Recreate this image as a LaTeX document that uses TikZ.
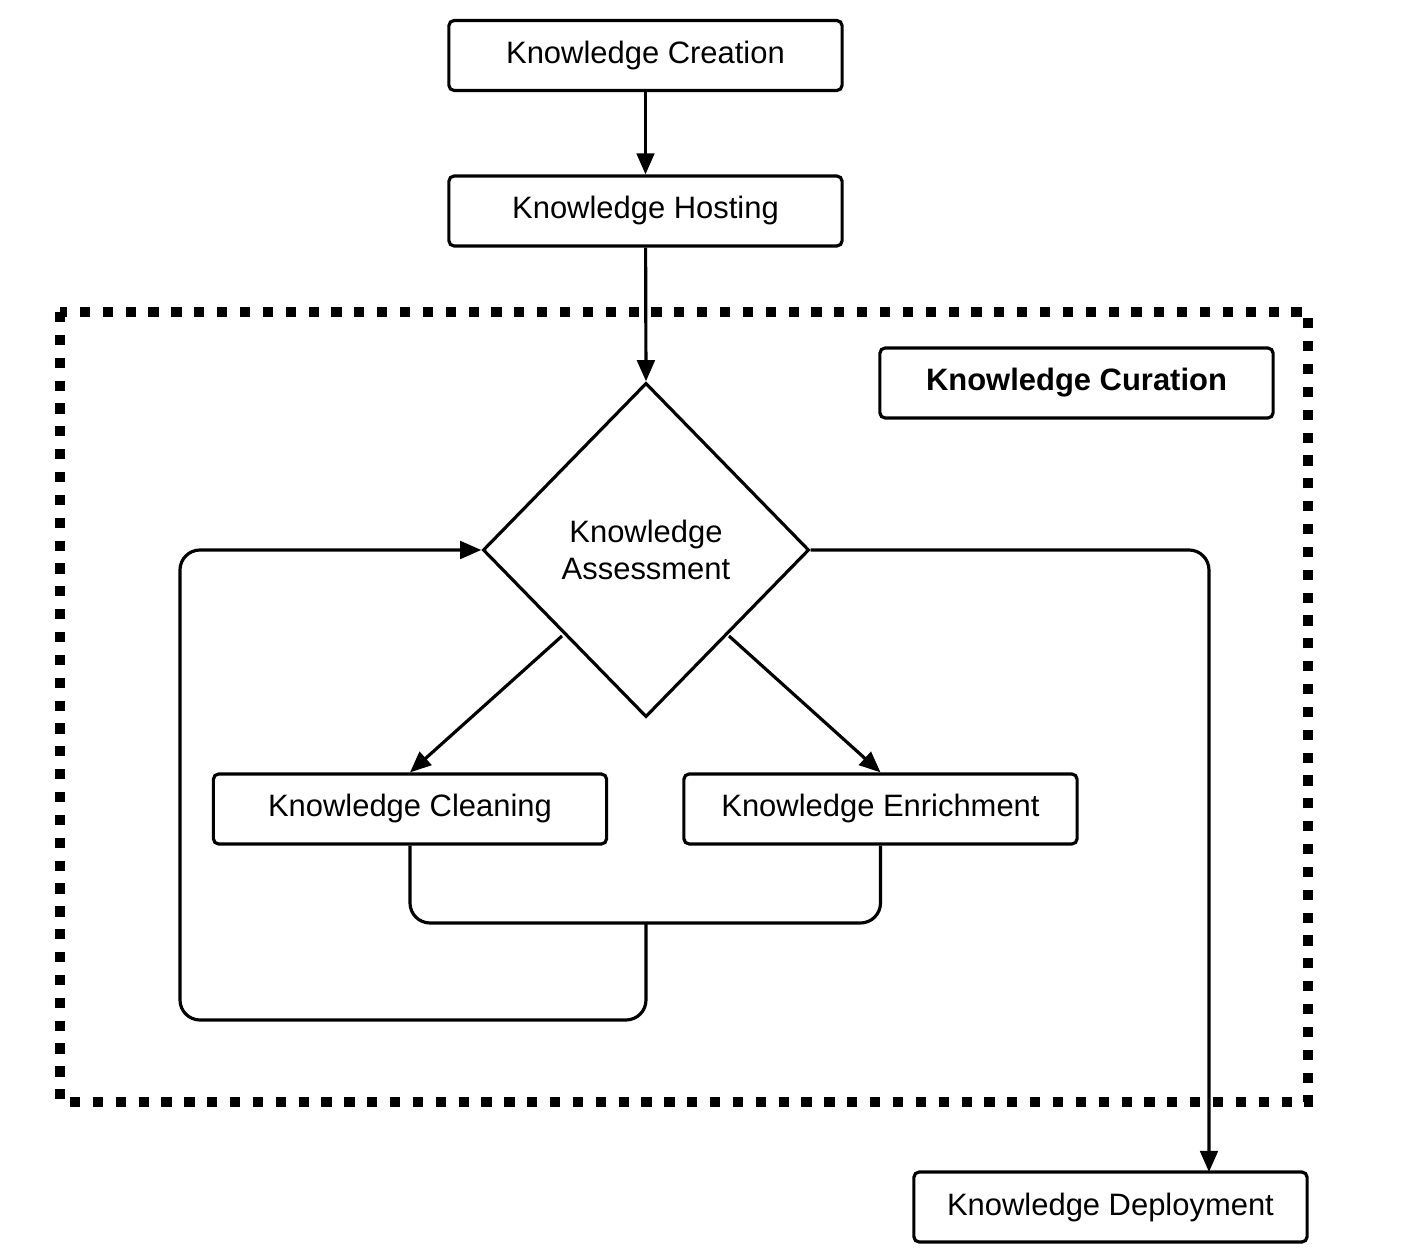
\documentclass[tikz,border=0pt]{standalone}
\usepackage{fontspec}
\setmainfont{Liberation Sans}
\usetikzlibrary{shapes.geometric,arrows.meta}
\begin{document}
\begin{tikzpicture}[x=0.01cm,y=-0.01cm,
  box/.style={draw,line width=0.9pt,rounded corners=1.5pt,minimum width=3.93cm,minimum height=0.70cm,inner sep=0pt,font=\fontsize{8.8}{10.5}\selectfont},
  conn/.style={line width=0.9pt,rounded corners=0.2cm},
  arr/.style={conn,-{Triangle[length=6pt,width=5pt]}}]
\useasboundingbox (0,0) rectangle (1402,1258);
\draw[line width=2.9pt,dash pattern=on 2.9pt off 3.6pt] (60,312) rectangle (1308,1102);
\node[box] (create) at (645.5,55.5) {Knowledge Creation};
\node[box] (host) at (645.5,211) {Knowledge Hosting};
\node[box,font=\fontsize{8.8}{10.5}\selectfont\bfseries] (cur) at (1076.5,383) {Knowledge Curation};
\node[draw,line width=0.9pt,diamond,minimum width=3.26cm,minimum height=3.34cm,inner sep=0pt,align=center,font=\fontsize{8.8}{10.5}\selectfont] (assess) at (646,550) {Knowledge\\Assessment};
\node[box] (clean) at (410,809) {Knowledge Cleaning};
\node[box] (enrich) at (880.5,809) {Knowledge Enrichment};
\node[box] (deploy) at (1110.5,1207) {Knowledge Deployment};
\coordinate (jn) at (646,923);
\draw[arr] (create) -- (host);
\draw[arr] (host) -- (assess.north);
\draw[arr] (assess.east) -- (1209,550) -- (1209,1172);
\draw[arr] (562,636) -- (clean.north);
\draw[arr] (729,636) -- (enrich.north);
\draw[conn] (clean.south) -- (410,923) -- (880.5,923) -- (enrich.south);
\draw[arr] (jn) -- (646,1020) -- (180,1020) -- (180,550) -- (assess.west);
\end{tikzpicture}
\end{document}
